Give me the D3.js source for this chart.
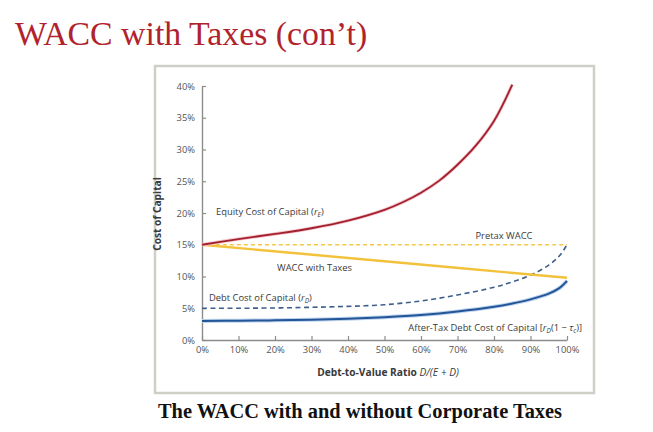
<!DOCTYPE html>
<html>
<head>
<meta charset="utf-8">
<title>WACC with Taxes</title>
<script src="https://d3js.org/d3.v7.min.js"></script>
<style>
  body { margin:0; background:#fff; }
  svg { display:block; }
  .tick text { font-family:"Open Sans", sans-serif; font-size:9.4px; fill:#555; }
  .lbl { font-family:"Open Sans", sans-serif; font-size:9.4px; fill:#3a3a3a; }
</style>
</head>
<body>
<svg id="chart" width="653" height="432"></svg>
<script>
// debt-to-value ratio (%) and cost of capital (%)
const equityX = [0, 10, 20, 30, 40, 50, 55, 60, 65, 70, 75, 80, 85];
const equityY = [15, 15.9, 16.7, 17.6, 18.8, 20.5, 21.7, 23.2, 25.1, 27.6, 30.6, 34.5, 40.2];

const debtX = [0, 10, 20, 30, 40, 50, 60, 70, 80, 85, 90, 95, 98, 100];
const debtY = [5, 5, 5.05, 5.15, 5.3, 5.55, 6.15, 7.1, 8.3, 9.15, 10.2, 11.8, 13.3, 15];
const afterTaxY = [3, 3.05, 3.1, 3.2, 3.35, 3.6, 3.95, 4.5, 5.25, 5.75, 6.4, 7.3, 8.2, 9.3];

const waccX = [0, 50, 100];
const waccTaxY = [15, 12.4, 9.8];
const pretaxY = [15, 15, 15];

const xTicks = [0, 10, 20, 30, 40, 50, 60, 70, 80, 90, 100];
const yTicks = [0, 5, 10, 15, 20, 25, 30, 35, 40];

const svg = d3.select("#chart");

// slide title
svg.append("text")
    .attr("x", 15).attr("y", 45)
    .style("font-family", "'Liberation Serif', 'Times New Roman', serif")
    .style("font-size", "33.8px")
    .attr("fill", "#b0232d")
    .text("WACC with Taxes (con\u2019t)");

// figure frame
svg.append("rect")
    .attr("x", 155).attr("y", 66)
    .attr("width", 439).attr("height", 327)
    .attr("fill", "#fff")
    .attr("stroke", "#cfcfc8")
    .attr("stroke-width", 2.5);

const x = d3.scaleLinear().domain([0, 100]).range([202, 567]);
const y = d3.scaleLinear().domain([0, 40]).range([340, 86]);

const pct = d => d + "%";

const gx = svg.append("g")
    .attr("transform", `translate(0,${y(0)})`)
    .call(d3.axisBottom(x).tickValues(xTicks).tickFormat(pct).tickSize(-4).tickSizeOuter(0).tickPadding(6));
const gy = svg.append("g")
    .attr("transform", `translate(${x(0)},0)`)
    .call(d3.axisLeft(y).tickValues(yTicks).tickFormat(pct).tickSize(-4).tickSizeOuter(0).tickPadding(7));

[gx, gy].forEach(g => {
    g.select(".domain").attr("stroke", "#8c8c8c").attr("stroke-width", 1.4);
    g.selectAll(".tick line").attr("stroke", "#8c8c8c").attr("stroke-width", 1.2);
});

const line = d3.line().x(d => x(d[0])).y(d => y(d[1])).curve(d3.curveCatmullRom.alpha(0.5));
const pairs = (xs, ys) => xs.map((v, i) => [v, ys[i]]);

// pretax WACC (dashed yellow)
svg.append("path")
    .attr("d", line(pairs(waccX, pretaxY)))
    .attr("fill", "none").attr("stroke", "#f4c94a")
    .attr("stroke-width", 1.5).attr("stroke-dasharray", "4,3");

// debt cost of capital (dashed blue)
svg.append("path")
    .attr("d", line(pairs(debtX, debtY)))
    .attr("fill", "none").attr("stroke", "#3d5f8c")
    .attr("stroke-width", 1.6).attr("stroke-dasharray", "5,3.5");

// WACC with taxes (solid yellow)
svg.append("path")
    .attr("d", line(pairs(waccX, waccTaxY)))
    .attr("fill", "none").attr("stroke", "#f3c23c")
    .attr("stroke-width", 2.4);

// after-tax debt cost (solid blue with light halo)
svg.append("path")
    .attr("d", line(pairs(debtX, afterTaxY)))
    .attr("fill", "none").attr("stroke", "#bcd3ee")
    .attr("stroke-width", 4);
svg.append("path")
    .attr("d", line(pairs(debtX, afterTaxY)))
    .attr("fill", "none").attr("stroke", "#245597")
    .attr("stroke-width", 2);

// equity cost of capital (red)
svg.append("path")
    .attr("d", line(pairs(equityX, equityY)))
    .attr("fill", "none").attr("stroke", "#f3c6cb")
    .attr("stroke-width", 3.5);
svg.append("path")
    .attr("d", line(pairs(equityX, equityY)))
    .attr("fill", "none").attr("stroke", "#a3202f")
    .attr("stroke-width", 1.8);

// curve labels
function label(px, py, parts, anchor) {
    const t = svg.append("text").attr("class", "lbl")
        .attr("x", px).attr("y", py)
        .attr("text-anchor", anchor || "start");
    parts.forEach(p => {
        const s = t.append("tspan").text(p.t);
        if (p.i) s.style("font-style", "italic");
        if (p.sub) s.attr("baseline-shift", "-25%").style("font-size", "6.5px");
    });
}
label(216, 215, [{t: "Equity Cost of Capital ("}, {t: "r", i: true}, {t: "E", i: true, sub: true}, {t: ")"}]);
label(504, 239, [{t: "Pretax WACC"}], "middle");
label(277, 271, [{t: "WACC with Taxes"}]);
label(209, 301, [{t: "Debt Cost of Capital ("}, {t: "r", i: true}, {t: "D", i: true, sub: true}, {t: ")"}]);
label(582, 331, [{t: "After-Tax Debt Cost of Capital ["}, {t: "r", i: true}, {t: "D", i: true, sub: true},
                 {t: "(1 \u2212 "}, {t: "\u03c4", i: true}, {t: "c", i: true, sub: true}, {t: ")]"}], "end");

// axis titles
svg.append("text")
    .attr("x", 388).attr("y", 376)
    .attr("text-anchor", "middle")
    .style("font-family", "'Open Sans', sans-serif")
    .style("font-size", "10.2px").style("font-weight", "bold")
    .attr("fill", "#3a3a3a")
    .call(t => {
        t.append("tspan").text("Debt-to-Value Ratio ");
        t.append("tspan").style("font-style", "italic").style("font-weight", "normal").text("D/(E + D)");
    });

svg.append("text")
    .attr("transform", "translate(161,214) rotate(-90)")
    .attr("text-anchor", "middle")
    .style("font-family", "'Open Sans', sans-serif")
    .style("font-size", "10.2px").style("font-weight", "bold")
    .attr("fill", "#3a3a3a")
    .text("Cost of Capital");

// caption
svg.append("text")
    .attr("x", 360).attr("y", 418)
    .attr("text-anchor", "middle")
    .style("font-family", "'Liberation Serif', 'Times New Roman', serif")
    .style("font-size", "20.4px").style("font-weight", "bold")
    .attr("fill", "#111")
    .text("The WACC with and without Corporate Taxes");
</script>
</body>
</html>
